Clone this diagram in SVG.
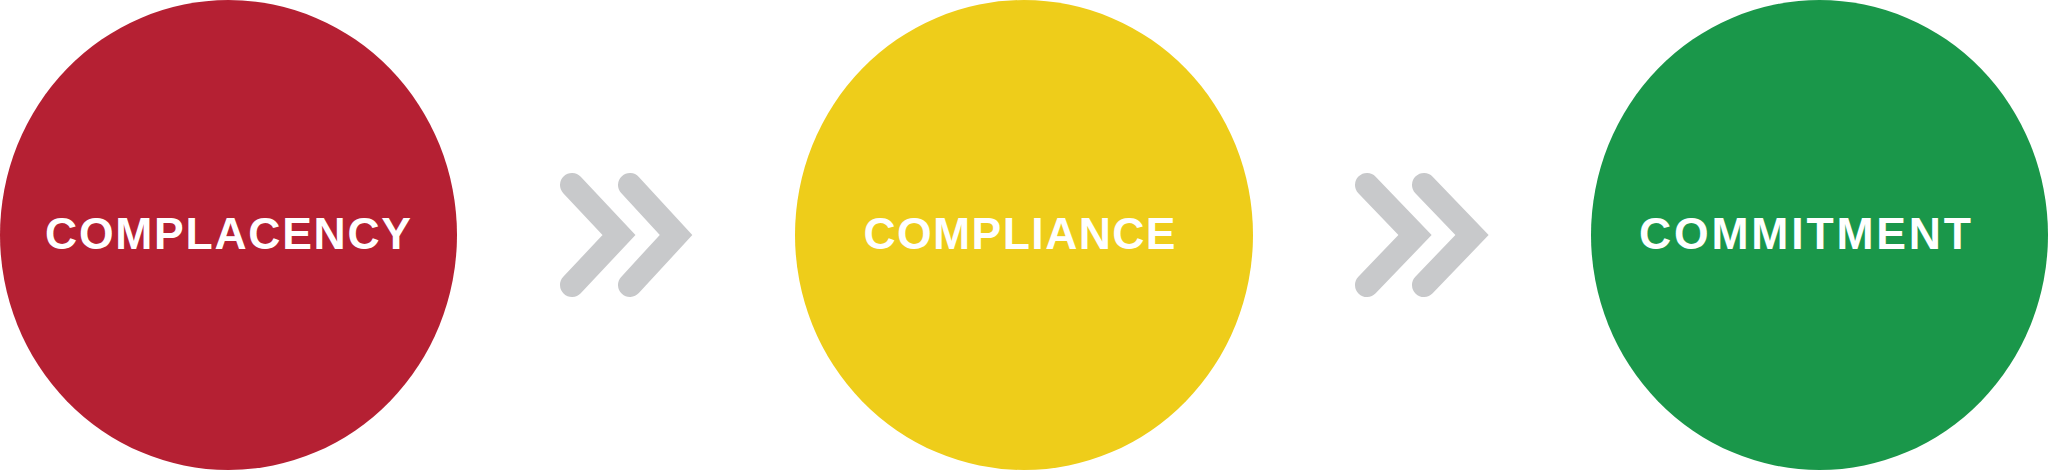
<svg xmlns="http://www.w3.org/2000/svg" width="2048" height="470" viewBox="0 0 2048 470">
  <style>
    .label { font-family: "Liberation Sans", Arial, sans-serif; font-weight: bold; font-size: 44.5px; fill: #ffffff; }
    .chev { fill: none; stroke: #C8C9CB; stroke-width: 24; stroke-linecap: round; stroke-linejoin: miter; stroke-miterlimit: 4; }
  </style>
  <rect width="2048" height="470" fill="#ffffff"/>
  <g id="node-complacency">
    <ellipse cx="228.5" cy="235" rx="228.5" ry="235" fill="#B52033"/>
    <text class="label" x="45" y="249" textLength="366" lengthAdjust="spacing">COMPLACENCY</text>
  </g>
  <g id="node-compliance">
    <ellipse cx="1024" cy="235" rx="229" ry="235" fill="#EECD1A"/>
    <text class="label" x="863.5" y="249" textLength="312" lengthAdjust="spacing">COMPLIANCE</text>
  </g>
  <g id="node-commitment">
    <ellipse cx="1819.5" cy="235" rx="228.5" ry="235" fill="#1A974A"/>
    <text class="label" x="1639" y="249" textLength="332" lengthAdjust="spacing">COMMITMENT</text>
  </g>
  <g id="connectors">
    <polyline class="chev" points="572,185 619,235 572,285"/>
    <polyline class="chev" points="630,185 676,235 630,285"/>
    <polyline class="chev" points="1367,185 1415,235 1367,285"/>
    <polyline class="chev" points="1424,185 1472,235 1424,285"/>
  </g>
</svg>
